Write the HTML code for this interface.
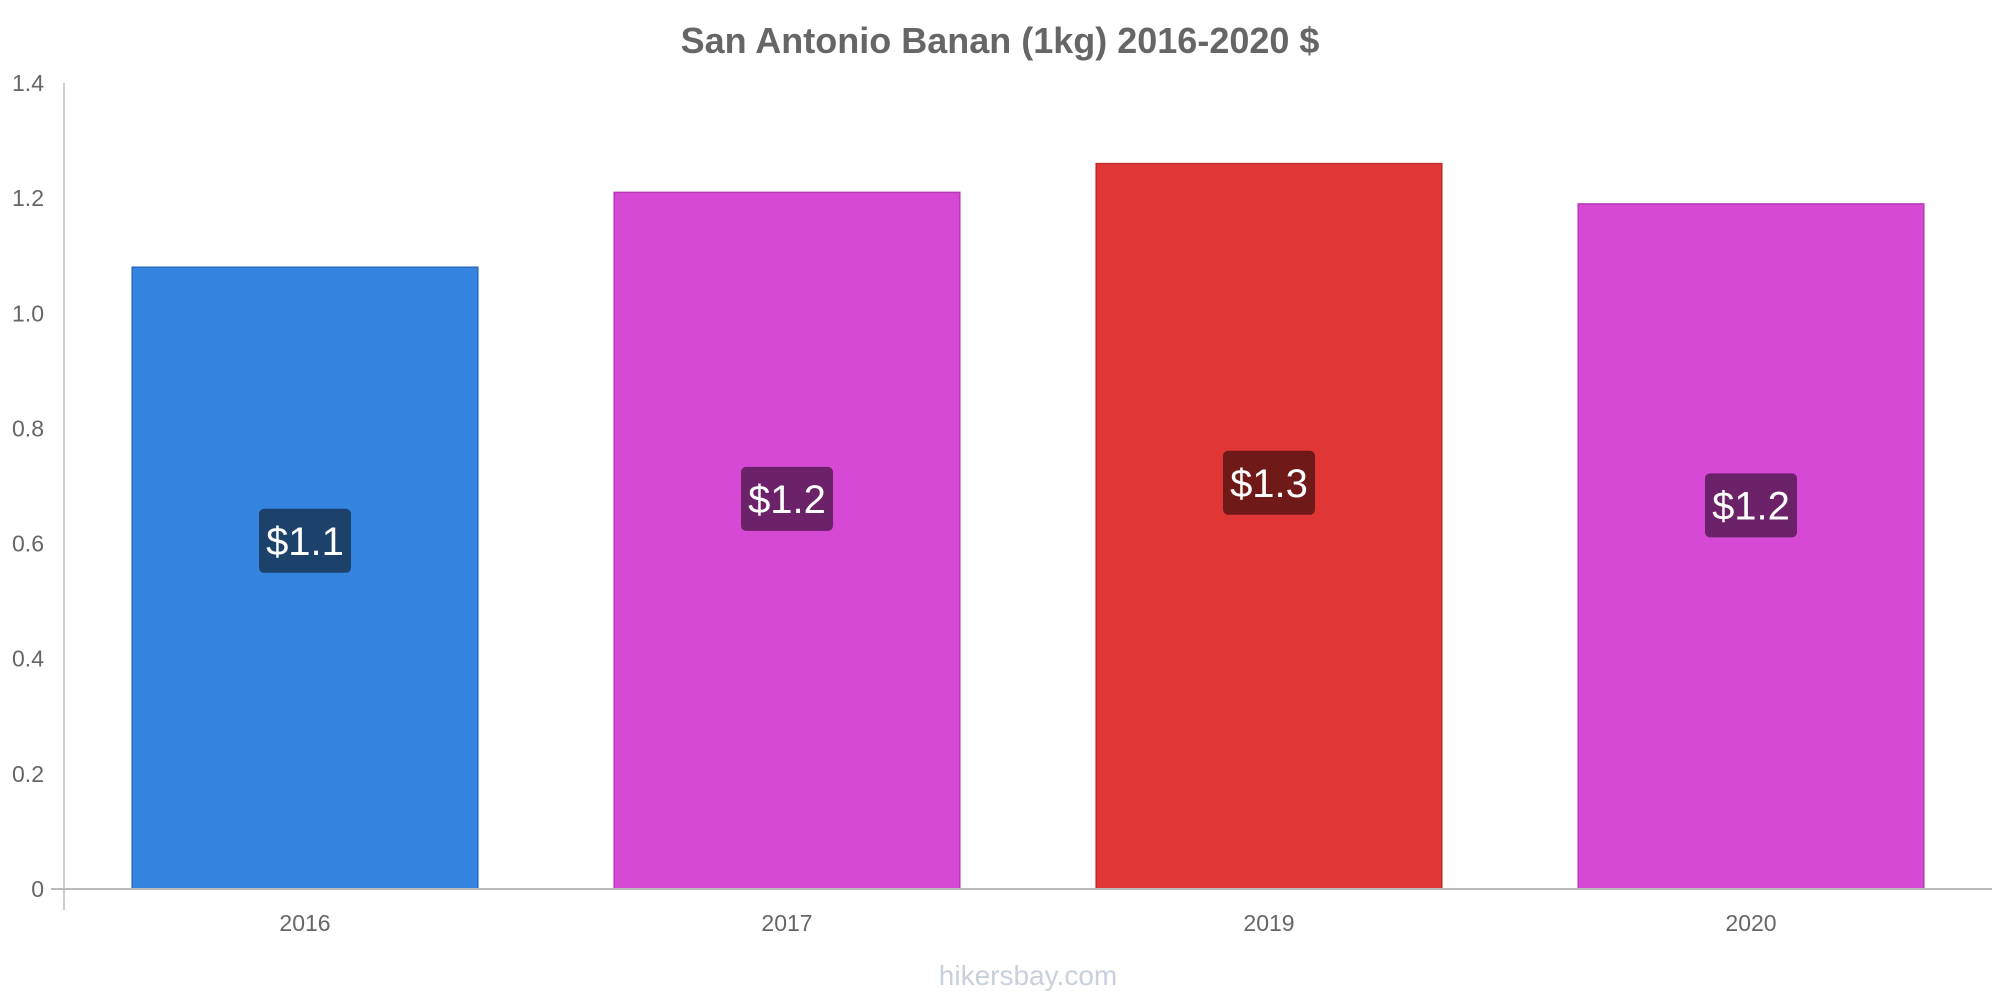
<!DOCTYPE html>
<html><head><meta charset="utf-8"><style>
body{margin:0;background:#fff}
svg text{font-family:"Liberation Sans",sans-serif}
</style></head><body>
<svg id="c" width="2000" height="1000">
<text x="1000" y="53" text-anchor="middle" font-size="36" font-weight="bold" fill="#666">San Antonio Banan (1kg) 2016-2020 $</text>
<text x="1028" y="985" text-anchor="middle" font-size="28" fill="#c8d0dc">hikersbay.com</text>
</svg>
<script>
const categories=["2016","2017","2019","2020"];
const values=[1.08,1.21,1.26,1.19];
const labels=["$1.1","$1.2","$1.3","$1.2"];
const yTicks=[0,0.2,0.4,0.6,0.8,1.0,1.2,1.4];
const yTickLabels=["0","0.2","0.4","0.6","0.8","1.0","1.2","1.4"];
const fills=["#3584e0","#d649d4","#e13636","#d649d4"];
const strokes=["#2a6cc0","#b83ab6","#c02a2a","#b83ab6"];
const boxFills=["#1c416b","#6b2268","#701919","#6b2268"];
const svg=document.getElementById('c');const NS='http://www.w3.org/2000/svg';
const x0=64,x1=1992,y0=889,yTop=83,yMax=1.4;
const y=v=>y0-(v/yMax)*(y0-yTop);
const band=(x1-x0)/categories.length,bw=band*0.717;
const xc=i=>x0+band*(i+0.5);
function mk(t,a,p){const e=document.createElementNS(NS,t);for(const k in a)e.setAttribute(k,a[k]);(p||svg).appendChild(e);return e;}
yTicks.forEach((t,i)=>{const e=mk('text',{x:44,y:y(t)+8,'text-anchor':'end','font-size':23,fill:'#666'});e.textContent=yTickLabels[i];

});
values.forEach((v,i)=>{
const r=mk('rect',{x:xc(i)-bw/2,y:y(v),width:bw,height:y0-y(v),fill:fills[i],stroke:strokes[i],'stroke-width':1.5});


const cy=y(v*0.56);
const b=mk('rect',{x:xc(i)-46,y:cy-32,width:92,height:64,rx:5,fill:boxFills[i]});


const t=mk('text',{x:xc(i),y:cy+14,'text-anchor':'middle','font-size':40,fill:'#fff'});t.textContent=labels[i];


const xl=mk('text',{x:xc(i),y:931,'text-anchor':'middle','font-size':23,fill:'#666'});xl.textContent=categories[i];


});
const ya=mk('line',{x1:x0,y1:yTop,x2:x0,y2:910,stroke:'#bbb','stroke-width':1.5});


const xa=mk('line',{x1:51,y1:y0,x2:x1,y2:y0,stroke:'#bbb','stroke-width':2});


</script>
</body></html>
